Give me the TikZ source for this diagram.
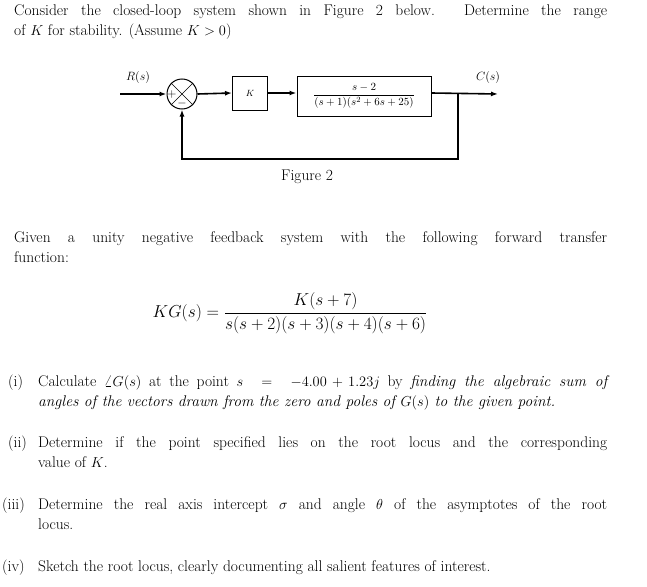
\documentclass[tikz,border=0pt]{standalone}
\usepackage{amsmath}
\usetikzlibrary{arrows.meta}
\begin{document}
\begin{tikzpicture}[x=1pt,y=-1pt,
  para/.style={anchor=north west,inner sep=0pt,align=justify,font=\fontsize{15.5}{20.8}\selectfont},
  lbl/.style={anchor=north west,inner sep=0pt,font=\fontsize{15.5}{20.8}\selectfont},
  blk/.style={draw,line width=1pt,inner sep=0pt},
  sig/.style={line width=1.6pt,-{Latex[length=7pt,width=5pt]}},
  small/.style={font=\fontsize{12}{14}\selectfont}]
\useasboundingbox (0,0) rectangle (647,586);
\node[para,text width=593pt] (p1) at (14,4) {Consider the closed-loop system shown in Figure 2 below. Determine the range\linebreak of $K$ for stability. (Assume $K>0$)};
% block diagram
\coordinate (in) at (120,94);
\node[draw,circle,line width=1pt,minimum size=30pt,inner sep=0pt] (sum) at (182,94) {};
\draw[line width=0.6pt] (sum.north west)--(sum.south east) (sum.north east)--(sum.south west);
\node[small] at (172,94) {$+$};
\node[small] at (182,103) {$-$};
\node[blk,minimum width=35pt,minimum height=34pt] (K) at (250,93) {\small$K$};
\node[blk,minimum width=134pt,minimum height=40pt] (G) at (364,96) {\fontsize{11}{13}\selectfont$\dfrac{s-2}{(s+1)(s^2+6s+25)}$};
\coordinate (out) at (498,94);
\coordinate (br) at (458,94);
\coordinate (fb) at (458,159);
\coordinate (fb2) at (182,159);
\draw[sig] (in)--(sum.west);
\draw[sig] (sum.east)--(K.west);
\draw[sig] (K.east)--(G.west |- K.east);
\draw[sig] (G.east |- K.east)--(out);
\draw[sig] (br)--(fb)--(fb2)--(sum.south);
\node[small] (R) at (138,77) {$R(s)$};
\node[small] (C) at (488,77) {$C(s)$};
\node[lbl] (fig) at (281,170) {Figure 2};
\node[para,text width=593pt] (p2) at (14,231) {Given a unity negative feedback system with the following forward transfer\linebreak function:};
\node[font=\fontsize{16}{18}\selectfont] (eq) at (290,313) {$KG(s)=\dfrac{K(s+7)}{s(s+2)(s+3)(s+4)(s+6)}$};
\node[lbl] (l1) at (8,375) {(i)};
\node[para,text width=569pt] (t1) at (38,375) {Calculate $\angle G(s)$ at the point $s\;=\;-4.00+1.23j$ by \emph{finding the algebraic sum of\linebreak angles of the vectors drawn from the zero and poles of $G(s)$ to the given point.}};
\node[lbl] (l2) at (8,436) {(ii)};
\node[para,text width=569pt] (t2) at (38,436) {Determine if the point specified lies on the root locus and the corresponding\linebreak value of $K$.};
\node[lbl] (l3) at (2,498) {(iii)};
\node[para,text width=569pt] (t3) at (38,498) {Determine the real axis intercept $\sigma$ and angle $\theta$ of the asymptotes of the root\linebreak locus.};
\node[lbl] (l4) at (2,560) {(iv)};
\node[para,text width=569pt] (t4) at (38,560) {Sketch the root locus, clearly documenting all salient features of interest.};
\end{tikzpicture}
\end{document}
